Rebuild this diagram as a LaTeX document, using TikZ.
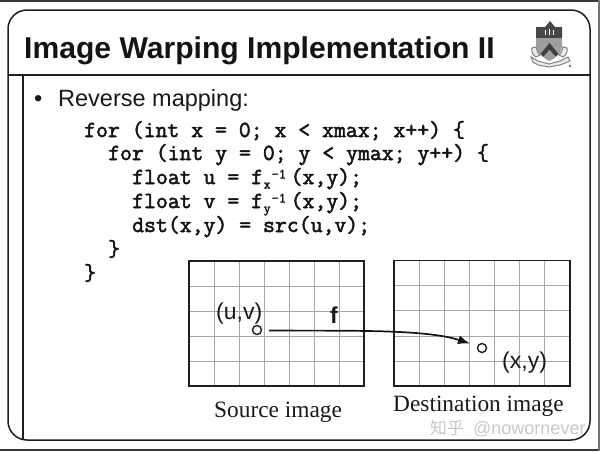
\documentclass[tikz,border=0pt]{standalone}
\usepackage{fontspec}
\setmainfont{Liberation Sans}
\newfontfamily\serifcap{Liberation Serif}
\newfontfamily\cjkfont{Noto Sans CJK SC}
\newfontfamily\codefont{Latin Modern Mono}[FakeBold=2.2]
\usetikzlibrary{arrows.meta}
\newcommand{\subsup}[1]{\hspace{0.6pt}\smash{\raisebox{-4.5pt}{\fontsize{13.5}{13}\selectfont\makebox[8pt][l]{#1}}}\smash{\raisebox{5.5pt}{\fontsize{14}{13}\selectfont\makebox[19pt][l]{-1}}}}
\tikzset{
  frameline/.style={draw=black!88,line width=1.5pt},
  gridfine/.style={draw=black!35,line width=0.8pt},
  gridbox/.style={draw=black!88,line width=1.5pt},
  code/.style={anchor=base west,inner sep=0pt,font=\codefont\fontsize{23.1}{24}\selectfont,text=black!92},
  lab/.style={anchor=base west,inner sep=0pt,font=\fontsize{23}{25}\selectfont,text=black!90},
  caption/.style={anchor=base west,inner sep=0pt,font=\serifcap\fontsize{23.35}{25}\selectfont,text=black!90},
  dot/.style={circle,draw=black!88,line width=1.4pt,minimum size=9pt,inner sep=0pt,fill=white},
}
\begin{document}
\begin{tikzpicture}[x=1pt,y=-1pt]
\useasboundingbox (0,0) rectangle (600,451);
\fill[black!78] (0,0) rectangle (600,1.8);
\fill[black!78] (0,449) rectangle (600,451);
\fill[black!55] (597.5,0) rectangle (600,451);
% frame
\draw[frameline,rounded corners=19pt] (8,10) rectangle (590,440);
\draw[frameline,line width=1.2pt] (8,75) -- (590,75);
\draw[frameline,line width=1.2pt] (23,75) -- (23,440);
% title
\node[anchor=base west,inner sep=0pt,font=\bfseries\fontsize{30.1}{32}\selectfont,text=black!92] (title) at (24,58) {Image Warping Implementation II};
% bullet
\node[anchor=base west,inner sep=0pt,font=\fontsize{23.5}{26}\selectfont,text=black!90] (bul) at (34,106) {•};
\node[anchor=base west,inner sep=0pt,font=\fontsize{23.5}{26}\selectfont,text=black!90] (rev) at (58,106) {Reverse mapping:};
% code
\node[code] (c1) at (84,137) {for (int x = 0; x < xmax; x++) \{};
\node[code] (c2) at (108,160) {for (int y = 0; y < ymax; y++) \{};
\node[code] (c3) at (132,184) {float u = f\subsup{x}(x,y);};
\node[code] (c4) at (132,208) {float v = f\subsup{y}(x,y);};
\node[code] (c5) at (132,232) {dst(x,y) = src(u,v);};
\node[code] (c6) at (108,256) {\}};
\node[code] (c7) at (84,280) {\}};
% source grid
\foreach \i in {1,...,6} \draw[gridfine] ({189+25*\i},261) -- ({189+25*\i},386);
\foreach \j in {1,...,4} \draw[gridfine] (189,{261+25*\j}) -- (364,{261+25*\j});
\draw[gridbox] (189,261) rectangle (364,386);
% destination grid
\foreach \i in {1,...,6} \draw[gridfine,line width=0.6pt] ({394+25.1*\i},260.5) -- ({394+25.1*\i},386);
\foreach \j in {1,...,4} \draw[gridfine,line width=0.6pt] (394,{260.5+25.1*\j}) -- (570,{260.5+25.1*\j});
\draw[gridbox] (394,260.5) rectangle (570,386);
% points
\node[dot] (src) at (257,330) {};
\node[dot] (dst) at (482,348) {};
\coordinate (arrowstart) at (269,330.5);
\coordinate (arrowend) at (470,343.5);
\draw[black!92,line width=1.7pt,-{Latex[length=12pt,width=9pt]}] (arrowstart) .. controls (350,331) and (425,329) .. (arrowend);
% labels
\node[lab] (uv) at (216,319) {(u,v)};
\node[lab,font=\bfseries\fontsize{23}{25}\selectfont] (f) at (330,323) {f};
\node[lab] (xy) at (502,368) {(x,y)};
\node[caption] (sc) at (214,417) {Source image};
\node[caption] (dc) at (393,411) {Destination image};
% watermark
\node[anchor=base west,inner sep=0pt,font=\cjkfont\fontsize{17}{19}\selectfont,text=black!22] (wm1) at (430,434) {知乎};
\node[anchor=base west,inner sep=0pt,font=\fontsize{18}{19}\selectfont,text=black!22] (wm2) at (473,434) {@nowornever};
% crest
\fill[black!72] (536,27) -- (545,27) -- (550,21) -- (555,27) -- (562,27) -- (562,38) -- (536,38) -- cycle;
\fill[black!38] (536,38) -- (562,38) -- (562,47) .. controls (561,54) and (555,58) .. (549.5,61) .. controls (544,58) and (537,54) .. (536,47) -- cycle;
\fill[black!75] (540.5,54) -- (549.5,43) -- (558.5,54) -- (555.5,56.5) -- (549.5,49.5) -- (543.5,56.5) -- cycle;
\draw[white,line width=0.8pt] (545,30) -- (545,35) (549,29) -- (549,35) (553,30) -- (553,35);
\draw[black!50,line width=1pt,fill=black!8] (531,57) -- (538,61) -- (549,64) -- (560,61) -- (568,57) -- (570,61) -- (560,65) -- (549,67) -- (538,65) -- (533,62) -- cycle;
\draw[black!50,line width=1pt,fill=black!8] (532,48) .. controls (531,52) and (533,55) .. (536,57) -- (540,55) .. controls (537,52) and (537,50) .. (536,47) -- cycle;
\draw[black!50,line width=1pt,fill=black!8] (567,48) .. controls (568,52) and (566,55) .. (563,57) -- (559,55) .. controls (562,52) and (562,50) .. (563,47) -- cycle;
\fill[black!55] (570,66) circle (1.3pt);
\end{tikzpicture}
\end{document}
